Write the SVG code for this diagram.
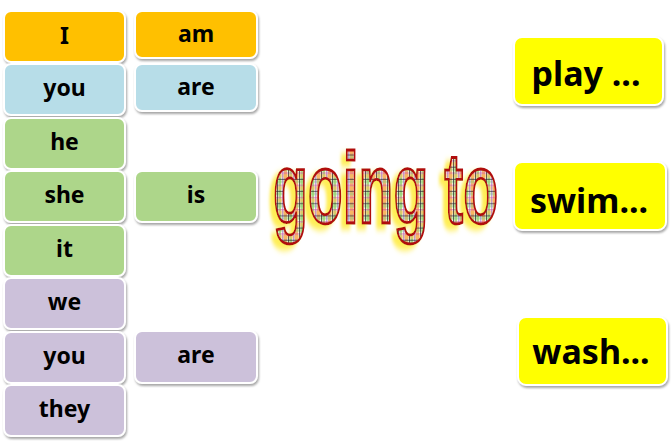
<svg xmlns="http://www.w3.org/2000/svg" width="671" height="447" viewBox="0 0 671 447">
<defs>
<filter id="sh" x="-10%" y="-10%" width="125%" height="130%">
<feDropShadow dx="1" dy="2" stdDeviation="1" flood-color="#808080" flood-opacity="0.7"/>
</filter>
<filter id="glow" x="-10%" y="-30%" width="120%" height="160%">
<feGaussianBlur in="SourceAlpha" stdDeviation="1.8"/>
<feOffset dx="-5" dy="2.6" result="b"/>
<feFlood flood-color="#FFEE55"/>
<feComposite in2="b" operator="in" result="s"/>
<feMerge><feMergeNode in="s"/><feMergeNode in="SourceGraphic"/></feMerge>
</filter>
<pattern id="plaid" width="11" height="7" patternUnits="userSpaceOnUse">
<rect width="11" height="7" fill="#FFFBEE"/>
<rect x="0" y="0" width="3" height="7" fill="#F59A50" opacity="0.75"/>
<rect x="5.5" y="0" width="2.5" height="7" fill="#8ED060" opacity="0.7"/>
<rect x="0" y="0" width="11" height="2" fill="#F8B850" opacity="0.55"/>
<rect x="0" y="3.5" width="11" height="1.6" fill="#88D070" opacity="0.5"/>
<rect x="9.3" y="0" width="1" height="7" fill="#9A6AD8" opacity="0.8"/>
<rect x="0" y="6" width="11" height="0.7" fill="#D04A8A" opacity="0.6"/>
<rect x="4" y="0" width="0.7" height="7" fill="#222"/>
<rect x="0" y="2.6" width="11" height="0.45" fill="#222"/>
</pattern>
</defs>
<style>
.b{stroke:#FFFFFF;stroke-width:2;filter:url(#sh)}
.o{fill:#FFC000}.bl{fill:#B7DDE8}.g{fill:#ADD68A}.p{fill:#CCC1DA}.y{fill:#FFFF00}
.t{font-family:"Comic Sans MS","Noto Sans",sans-serif;font-weight:bold;font-size:23px;fill:#000;text-anchor:middle}
.ty{font-family:"Comic Sans MS","Noto Sans",sans-serif;font-weight:bold;font-size:34px;fill:#000;text-anchor:middle}
.w{font-family:"Liberation Sans",Arial,sans-serif;font-weight:bold;font-size:57px}
</style>
<rect width="671" height="447" fill="#FFFFFF"/>
<g id="n-I"><rect class="b o" x="4" y="11" width="121" height="51" rx="7"/><text class="t" x="64.5" y="44">I</text></g>
<g id="n-you1"><rect class="b bl" x="4" y="64" width="121" height="51" rx="7"/><text class="t" x="64.5" y="96">you</text></g>
<g id="n-he"><rect class="b g" x="4" y="118" width="121" height="51" rx="7"/><text class="t" x="64.5" y="150">he</text></g>
<g id="n-she"><rect class="b g" x="4" y="171" width="121" height="51" rx="7"/><text class="t" x="64.5" y="203">she</text></g>
<g id="n-it"><rect class="b g" x="4" y="225" width="121" height="51" rx="7"/><text class="t" x="64.5" y="257">it</text></g>
<g id="n-we"><rect class="b p" x="4" y="278" width="121" height="51" rx="7"/><text class="t" x="64.5" y="310">we</text></g>
<g id="n-you2"><rect class="b p" x="4" y="332" width="121" height="51" rx="7"/><text class="t" x="64.5" y="364">you</text></g>
<g id="n-they"><rect class="b p" x="4" y="385" width="121" height="51" rx="7"/><text class="t" x="64.5" y="417">they</text></g>
<g id="n-am"><rect class="b o" x="135" y="11" width="122" height="47" rx="7"/><text class="t" x="196" y="42">am</text></g>
<g id="n-are1"><rect class="b bl" x="135" y="64" width="122" height="47" rx="7"/><text class="t" x="196" y="95">are</text></g>
<g id="n-is"><rect class="b g" x="135" y="171" width="122" height="51" rx="7"/><text class="t" x="196" y="203">is</text></g>
<g id="n-are2"><rect class="b p" x="135" y="331" width="122" height="52" rx="7"/><text class="t" x="196" y="363">are</text></g>
<g id="n-going">
<text class="w" transform="translate(273,223) scale(1,1.74)" x="0" y="0" textLength="225" lengthAdjust="spacingAndGlyphs" fill="url(#plaid)" stroke="#B01010" stroke-width="1.6" filter="url(#glow)">going to</text>
</g>
<g id="n-play"><rect class="b y" x="514" y="37" width="149" height="68" rx="8"/><text class="ty" x="586" y="86">play ...</text></g>
<g id="n-swim"><rect class="b y" x="514" y="162" width="152" height="68" rx="8"/><text class="ty" x="589" y="213">swim...</text></g>
<g id="n-wash"><rect class="b y" x="518" y="317" width="149" height="68" rx="8"/><text class="ty" x="591" y="364">wash...</text></g>
<g id="connectors"></g>
</svg>
